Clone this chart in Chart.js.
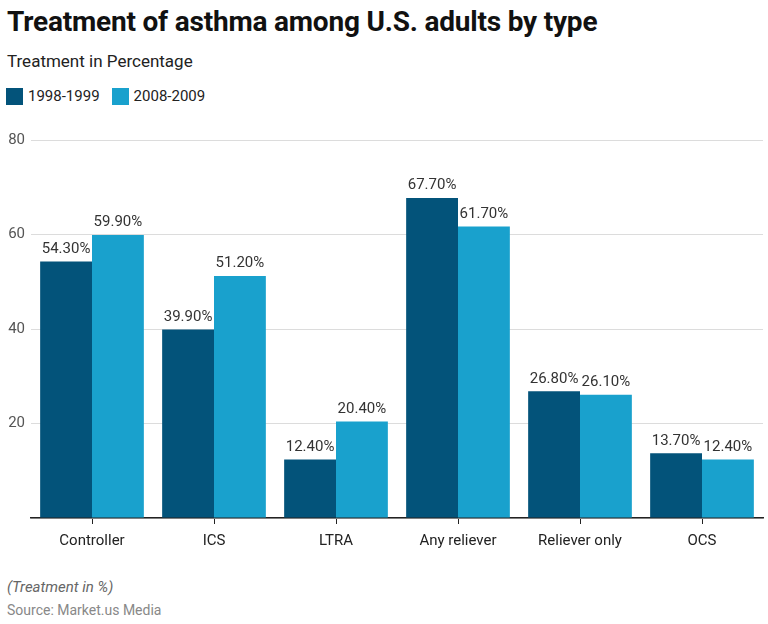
<!DOCTYPE html>
<html>
<head>
<meta charset="utf-8">
<script src="https://cdn.jsdelivr.net/npm/chart.js@4/dist/chart.umd.min.js"></script>
<style>
  html, body { margin: 0; padding: 0; background: #fff; }
  body { width: 768px; height: 624px; position: relative; overflow: hidden; font-family: Roboto, sans-serif; }
  #title { position: absolute; left: 7px; top: 5px; font-size: 28px; font-weight: 700; color: #111; letter-spacing: -0.2px; }
  #subtitle { position: absolute; left: 7px; top: 51px; font-size: 17px; color: #222; }
  #legend { position: absolute; left: 6px; top: 87px; display: flex; font-size: 15px; color: #222; }
  #legend .item { display: flex; align-items: center; margin-right: 12px; }
  #legend .box { width: 17px; height: 17px; margin-right: 5px; }
  #wrap { position: absolute; left: 0; top: 125px; width: 768px; height: 433px; }
  #note { position: absolute; left: 7px; top: 578px; font-size: 15px; font-style: italic; color: #666; }
  #source { position: absolute; left: 7px; top: 602px; font-size: 14px; color: #888; }
</style>
</head>
<body>
<div id="title">Treatment of asthma among U.S. adults by type</div>
<div id="subtitle">Treatment in Percentage</div>
<div id="legend"></div>
<div id="wrap"><canvas id="chart"></canvas></div>
<div id="note">(Treatment in %)</div>
<div id="source">Source: Market.us Media</div>
<script>
const categories = ['Controller', 'ICS', 'LTRA', 'Any reliever', 'Reliever only', 'OCS'];
const seriesNames = ['1998-1999', '2008-2009'];
const seriesColors = ['#03537a', '#19a1cd'];
const values1998 = [54.3, 39.9, 12.4, 67.7, 26.8, 13.7];
const values2008 = [59.9, 51.2, 20.4, 61.7, 26.1, 12.4];
const yTicks = [0, 20, 40, 60, 80];

// HTML legend from the series arrays
document.getElementById('legend').innerHTML = seriesNames.map((n, i) => `
  <div class="item"><div class="box" style="background:${seriesColors[i]}"></div>${n}</div>
`).join('');

// value labels above bars
const valueLabels = {
  id: 'valueLabels',
  afterDatasetsDraw(chart) {
    const ctx = chart.ctx;
    ctx.save();
    ctx.font = '15px Roboto, sans-serif';
    ctx.fillStyle = '#333';
    ctx.textAlign = 'center';
    ctx.textBaseline = 'bottom';
    chart.data.datasets.forEach((ds, di) => {
      chart.getDatasetMeta(di).data.forEach((bar, i) => {
        ctx.fillText(ds.data[i].toFixed(2) + '%', bar.x, bar.y - 5);
      });
    });
    ctx.restore();
  }
};

new Chart(document.getElementById('chart'), {
  type: 'bar',
  data: {
    labels: categories,
    datasets: [
      { label: seriesNames[0], data: values1998, backgroundColor: seriesColors[0] },
      { label: seriesNames[1], data: values2008, backgroundColor: seriesColors[1] },
    ]
  },
  options: {
    responsive: true,
    maintainAspectRatio: false,
    animation: false,
    datasets: { bar: { categoryPercentage: 0.85, barPercentage: 1.0 } },
    layout: { padding: { left: 0, right: 5, top: 6, bottom: 0 } },
    plugins: { legend: { display: false }, tooltip: { enabled: false } },
    scales: {
      x: {
        grid: { offset: false, drawOnChartArea: false, drawTicks: true, tickLength: 6, color: '#222' },
        border: { color: '#222', width: 1.5 },
        ticks: { color: '#222', font: { size: 15, family: 'Roboto' }, padding: 8 }
      },
      y: {
        min: yTicks[0],
        max: yTicks[yTicks.length - 1],
        afterBuildTicks: axis => { axis.ticks = yTicks.map(v => ({ value: v })); },
        afterFit: axis => { axis.width = 31; },
        grid: { color: '#dcdcdc', drawTicks: false },
        border: { display: false },
        ticks: { color: '#555', font: { size: 15, family: 'Roboto' }, padding: 6,
                 callback: v => v === 0 ? '' : v }
      }
    }
  },
  plugins: [valueLabels]
});
</script>
</body>
</html>
